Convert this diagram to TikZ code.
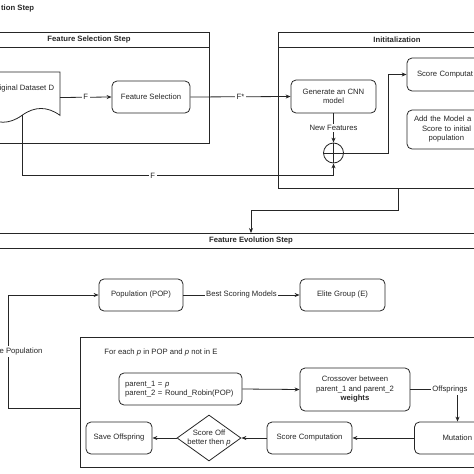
\documentclass[tikz,border=0pt]{standalone}
\usepackage{fontspec}
\setmainfont{Liberation Sans}
\usetikzlibrary{positioning,shapes.geometric,arrows.meta}
\tikzset{
  stepbox/.style={draw, rounded corners=5pt, align=center, inner sep=2pt},
  lbl/.style={fill=white, inner sep=1.5pt},
  arr/.style={-{Stealth[length=5pt,width=4pt]}},
  lanetitle/.style={font=\fontsize{7.7}{9.5}\selectfont\bfseries},
}
\begin{document}
\begin{tikzpicture}[x=1pt,y=-1pt,font=\fontsize{7.7}{9.5}\selectfont,color=black!85,line width=.8pt]
            \useasboundingbox (0,0) rectangle (474,474);
            \clip (0,0) rectangle (474,474);
            \draw (-31,32) rectangle (209,143) (-31,47) -- (209,47);
            \node[lanetitle] (fssTitle) at (89,40) {Feature Selection Step};
            \draw (278,32) rectangle (516,188) (278,47) -- (516,47);
            \node[lanetitle] (initTitle) at (397,40) {Inititalization};
            \draw (-31,233) rectangle (533,500) (-31,248) -- (533,248);
            \node[lanetitle] (fesTitle) at (251,241) {Feature Evolution Step};
            \node[lanetitle, anchor=east, inner sep=0pt] (mainTitle) at (34.5,9) {tion Step};
            \draw (80,337) rectangle (533,467);
            \node[anchor=west, inner sep=0pt] (loopText) at (104,353) {For each \textit{p} in POP and \textit{p} not in E};
            \draw (-16,72) -- (60,72) -- (60,115.35) .. controls (47.33,106.18) and (34.67,106.18) .. (22,115.35)
                .. controls (9.33,124.52) and (-3.33,124.52) .. (-16,115.35) -- cycle;
            \node[anchor=east, inner sep=0pt] (docText) at (54.5,89) {iginal Dataset D};
            \coordinate (docE) at (60,97.5);
            \coordinate (docB) at (22,115.35);
            \node[stepbox, minimum width=78pt, minimum height=32pt] (fsel) at (151,97) {Feature Selection};
            \node[stepbox, minimum width=85pt, minimum height=33pt] (gen) at (333.5,96.5) {Generate an CNN\\model};
            \node[draw, circle, minimum size=20pt, inner sep=0pt] (mix) at (333.5,153) {};
            \draw (mix.north) -- (mix.south) (mix.west) -- (mix.east);
            \node[stepbox, minimum width=85pt, minimum height=33pt, text width=65pt, align=left] (score0) at (449.5,74.5) {Score Computat};
            \node[stepbox, minimum width=85pt, minimum height=39pt, text width=71pt, align=left] (addm) at (449.5,129.5)
                {Add the Model a\\\hspace*{8pt}Score to initial\\\hspace*{14.5pt}population};
            \node[stepbox, minimum width=84pt, minimum height=32pt] (pop) at (141,295) {Population (POP)};
            \node[stepbox, minimum width=85pt, minimum height=32pt] (elite) at (342.5,295) {Elite Group (E)};
            \node[stepbox, minimum width=123pt, minimum height=32pt, text width=111pt, align=left] (parents) at (180.5,389) {parent\_1 = \textit{p}\\parent\_2 = Round\_Robin(POP)};
            \node[stepbox, minimum width=110pt, minimum height=43pt] (cross) at (355,389.5) {Crossover between\\parent\_1 and parent\_2\\\textbf{weights}};
            \node[stepbox, minimum width=86pt, minimum height=32pt, text width=30pt, align=left] (mut) at (457.5,438) {Mutation};
            \node[stepbox, minimum width=85pt, minimum height=32pt] (scorec) at (309.5,438) {Score Computation};
            \node[draw, diamond, minimum width=64pt, minimum height=46pt, inner sep=0pt,
                label={[align=center]center:Score Off\\better then \textit{p}}] (dec) at (209,438) {};
            \node[stepbox, minimum width=66pt, minimum height=32pt] (save) at (119,438) {Save Offspring};
            \coordinate (initB) at (398,188);
            \coordinate (fesT) at (251,233);
            \coordinate (loopW) at (80,408);
            \draw[arr] (docE) -- node[lbl] {F} (fsel.west);
            \draw[arr] (fsel.east) -- node[lbl] {F*} (gen.west);
            \draw[arr] (docB) -- ++(0,60) -| node[lbl, pos=.21] {F} (mix.south);
            \draw[arr] (gen.south) -- node[lbl] {New Features} (mix.north);
            \draw[arr] (mix.east) -- ++(44.5,0) |- (score0.west);
            \draw[arr] (initB) -- ++(0,22) -| (fesT);
            \draw[arr] (pop.east) -- node[lbl] {Best Scoring Models} (elite.west);
            \draw[arr] (loopW) -- (8,408) |- node[lbl, pos=.25, xshift=13pt] {e Population} (pop.west);
            \draw[arr] (parents.east) -- (cross.west);
            \draw[arr] (cross.east) -| node[lbl, pos=.42] {Offsprings} (mut.north);
            \draw[arr] (mut.west) -- (scorec.east);
            \draw[arr] (scorec.west) -- (dec.east);
            \draw[arr] (dec.west) -- (save.east);
        \end{tikzpicture}
\end{document}
